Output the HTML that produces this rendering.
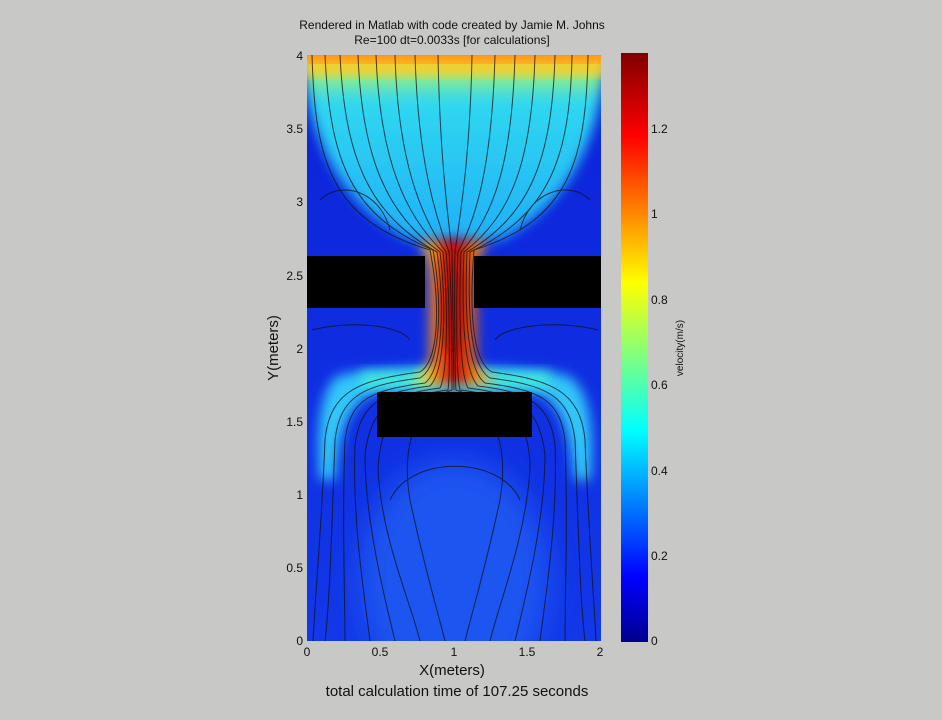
<!DOCTYPE html>
<html><head><style>
body{margin:0;background:#c8c8c6;}
svg{display:block;font-family:"Liberation Sans",sans-serif;}
</style></head><body>
<svg width="942" height="720" viewBox="0 0 942 720" xmlns="http://www.w3.org/2000/svg">
<defs>
<filter id="b1" x="-50%" y="-50%" width="200%" height="200%"><feGaussianBlur stdDeviation="14"/></filter>
<filter id="b2" x="-50%" y="-50%" width="200%" height="200%"><feGaussianBlur stdDeviation="6"/></filter>
<linearGradient id="top" x1="0" y1="0" x2="0" y2="1">
<stop offset="0" stop-color="#ff8c10"/><stop offset="0.08" stop-color="#ffd020"/><stop offset="0.16" stop-color="#a0f070"/><stop offset="0.3" stop-color="#30d8f0"/><stop offset="1" stop-color="#20b0f8"/>
</linearGradient>
<linearGradient id="bot" x1="0" y1="0" x2="0" y2="1">
<stop offset="0" stop-color="#0c22d8"/><stop offset="1" stop-color="#1238e8"/>
</linearGradient>
<linearGradient id="cb" x1="0" y1="1" x2="0" y2="0">
<stop offset="0" stop-color="#00008f"/><stop offset="0.11" stop-color="#0000ff"/><stop offset="0.36" stop-color="#00ffff"/><stop offset="0.61" stop-color="#ffff00"/><stop offset="0.86" stop-color="#ff0000"/><stop offset="1" stop-color="#800000"/>
</linearGradient>
<linearGradient id="jet" x1="0" y1="0" x2="1" y2="0">
<stop offset="0" stop-color="#30e0e0"/><stop offset="0.2" stop-color="#ffe020"/><stop offset="0.4" stop-color="#e02010"/><stop offset="0.55" stop-color="#c01010"/><stop offset="0.75" stop-color="#ff9a10"/><stop offset="1" stop-color="#40e0d0"/>
</linearGradient>
<clipPath id="pc"><rect x="307" y="55" width="294" height="586"/></clipPath>
</defs>
<text x="452" y="29" font-size="12" text-anchor="middle" fill="#111">Rendered in Matlab with code created by Jamie M. Johns</text>
<text x="452" y="44" font-size="12" text-anchor="middle" fill="#111">Re=100 dt=0.0033s [for calculations]</text>
<g clip-path="url(#pc)">
<rect x="307" y="55" width="294" height="586" fill="url(#bot)"/>
<ellipse cx="454" cy="580" rx="95" ry="120" fill="#1a55f0" filter="url(#b1)"/>
<!-- upper funnel -->
<path d="M300 40 L608 40 C600 150 565 205 500 240 L410 240 C345 205 308 150 300 40Z" fill="url(#top)" filter="url(#b2)"/>
<rect x="300" y="50" width="310" height="14" fill="#ff9418"/>
<rect x="300" y="62" width="310" height="12" fill="#ffc828" filter="url(#b2)"/>
<!-- side cyan band -->
<path d="M340 375 C400 365 500 365 565 375 C590 385 595 430 590 480 L575 480 C570 430 560 400 535 392 L377 392 C350 400 338 430 335 480 L320 480 C316 430 320 385 340 375Z" fill="#30c8f8" filter="url(#b2)"/>
<path d="M360 372 L550 372 L550 388 L360 388Z" fill="#40e8e0" filter="url(#b2)"/>
<!-- jet -->
<path d="M418 240 C428 250 430 270 430 300 L430 360 C425 375 410 380 405 385 L505 385 C495 380 480 375 476 360 L476 300 C476 270 478 250 490 240Z" fill="url(#jet)" filter="url(#b2)"/>
<ellipse cx="452" cy="300" rx="9" ry="55" fill="#b00c0c" filter="url(#b2)"/>
<!-- streamlines -->
<g fill="none" stroke="#111" stroke-width="1" opacity="0.75">
<path d="M312 55 C315 160 330 220 430 250 C440 300 440 360 420 372 C360 380 330 390 325 440 C322 520 315 600 313 641"/>
<path d="M325 55 C330 160 350 215 433 250 C442 300 442 365 420 378 C365 385 340 395 335 440 C332 520 330 600 325 641"/>
<path d="M340 55 C345 160 370 215 437 252 C444 300 444 368 425 383 C370 390 350 400 345 440 C342 520 345 600 345 641"/>
<path d="M358 55 C362 160 388 215 440 252 C446 300 446 370 430 386 C380 392 360 405 355 445 C352 520 365 600 370 641"/>
<path d="M376 55 C380 160 405 215 443 252 C448 300 448 372 440 388 C390 394 370 410 365 455 C365 520 385 600 395 641"/>
<path d="M395 55 C398 160 420 215 446 252 C450 300 450 375 448 390 C400 395 380 420 378 470 C382 540 410 600 420 641"/>
<path d="M415 55 C418 160 435 215 449 252 C452 300 452 378 452 390 C420 400 400 440 410 500 C425 570 440 620 445 641"/>
<path d="M438 55 C440 160 448 215 452 252 L454 390"/>
<path d="M472 55 C470 160 460 215 455 252 C454 300 455 378 456 390 C490 400 510 440 500 500 C485 570 470 620 465 641"/>
<path d="M495 55 C492 160 478 215 458 252 C456 300 456 375 460 390 C510 395 530 420 530 470 C525 540 500 600 490 641"/>
<path d="M515 55 C512 160 495 215 461 252 C459 300 459 372 468 388 C520 394 540 410 545 455 C545 520 525 600 515 641"/>
<path d="M535 55 C532 160 512 215 464 252 C462 300 462 370 478 386 C530 392 550 405 555 445 C558 520 545 600 540 641"/>
<path d="M555 55 C552 160 530 215 467 252 C465 300 465 368 485 383 C540 390 560 400 565 440 C568 520 565 600 565 641"/>
<path d="M572 55 C570 160 548 215 470 252 C468 300 468 365 490 378 C545 385 570 395 575 440 C578 520 580 600 585 641"/>
<path d="M588 55 C586 160 570 220 474 250 C470 300 470 360 492 372 C550 380 580 390 585 440 C588 520 594 600 596 641"/>
<path d="M320 200 C340 180 380 190 390 230"/><path d="M590 200 C570 180 530 190 520 230"/>
<path d="M312 330 C350 320 400 325 410 340"/><path d="M598 330 C560 320 505 325 495 340"/>
<path d="M390 500 C410 455 500 455 520 500"/>
</g>
</g>
<rect x="307" y="256" width="118" height="52" fill="#000"/>
<rect x="474" y="256" width="127" height="52" fill="#000"/>
<rect x="377" y="392" width="155" height="45" fill="#000"/>
<g font-size="12" fill="#111">
<text x="303" y="60" text-anchor="end">4</text>
<text x="303" y="133" text-anchor="end">3.5</text>
<text x="303" y="206" text-anchor="end">3</text>
<text x="303" y="280" text-anchor="end">2.5</text>
<text x="303" y="353" text-anchor="end">2</text>
<text x="303" y="426" text-anchor="end">1.5</text>
<text x="303" y="499" text-anchor="end">1</text>
<text x="303" y="572" text-anchor="end">0.5</text>
<text x="303" y="645" text-anchor="end">0</text>
<text x="307" y="656" text-anchor="middle">0</text>
<text x="380" y="656" text-anchor="middle">0.5</text>
<text x="454" y="656" text-anchor="middle">1</text>
<text x="527" y="656" text-anchor="middle">1.5</text>
<text x="600" y="656" text-anchor="middle">2</text>
</g>
<text x="452" y="675" font-size="15" text-anchor="middle" fill="#111">X(meters)</text>
<text x="457" y="696" font-size="15" text-anchor="middle" fill="#111">total calculation time of 107.25 seconds</text>
<text transform="translate(278,348) rotate(-90)" font-size="15" text-anchor="middle" fill="#111">Y(meters)</text>
<rect x="621" y="53" width="27" height="589" fill="url(#cb)"/>
<g font-size="12" fill="#111">
<text x="651" y="645">0</text>
<text x="651" y="560">0.2</text>
<text x="651" y="475">0.4</text>
<text x="651" y="389">0.6</text>
<text x="651" y="304">0.8</text>
<text x="651" y="218">1</text>
<text x="651" y="133">1.2</text>
</g>
<text transform="translate(683,348) rotate(-90)" font-size="10" text-anchor="middle" fill="#111">velocity(m/s)</text>
</svg>
</body></html>
